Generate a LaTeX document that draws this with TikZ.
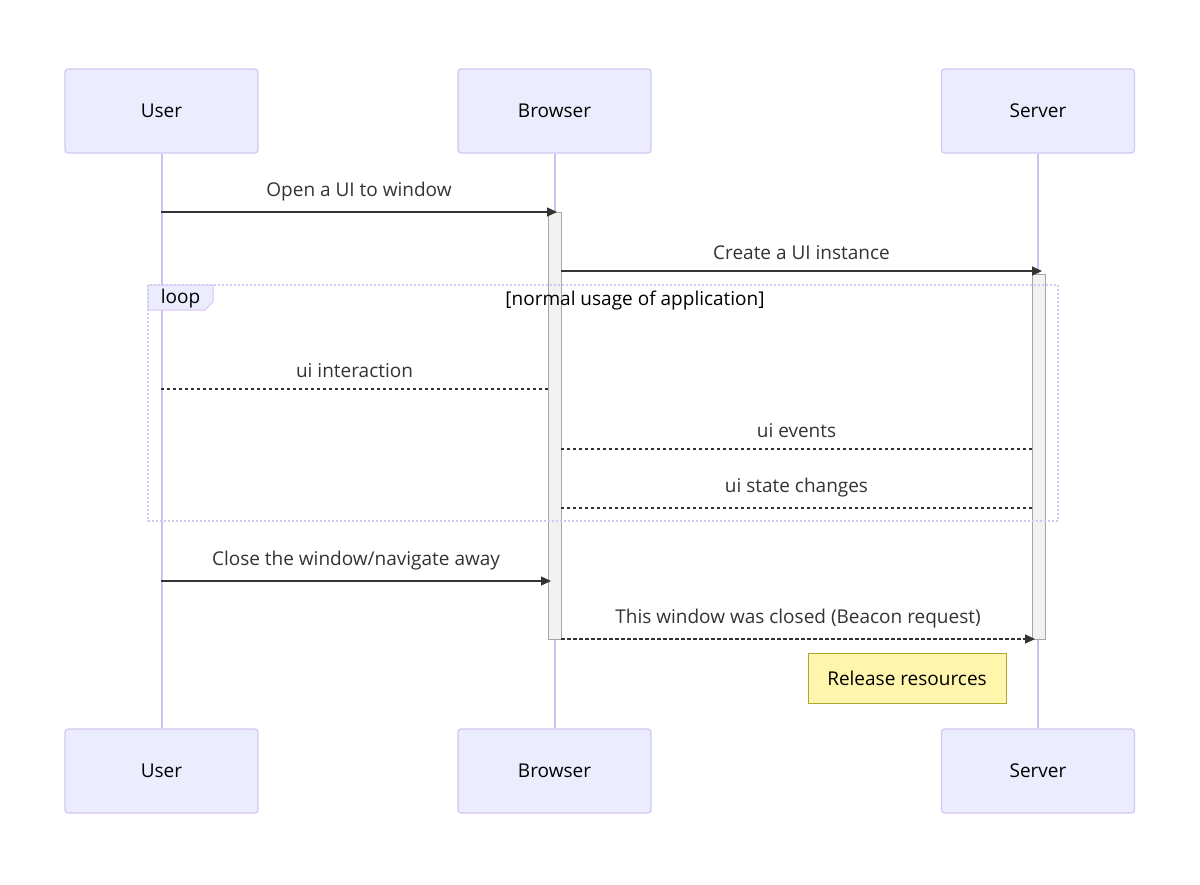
\documentclass[tikz,border=0pt]{standalone}
\usepackage{fontspec}
\setmainfont{Open Sans}
\usetikzlibrary{arrows.meta}
\definecolor{actf}{HTML}{ECECFF}
\definecolor{actd}{HTML}{D3C6F2}
\definecolor{life}{HTML}{CFC0EF}
\definecolor{txt}{HTML}{333333}
\definecolor{notef}{HTML}{FFF5AD}
\definecolor{noted}{HTML}{AAAA33}
\tikzset{
 x=1pt,y=-1pt,
 actor/.style={draw=actd,fill=actf,line width=1.2pt,rounded corners=3pt,minimum width=193pt,minimum height=84pt,font=\fontsize{19}{22}\selectfont,text=black},
 act/.style={draw=gray!70,fill=gray!10,line width=1pt},
 msg/.style={draw=txt,line width=1.3pt},
 head/.style={-{Triangle[length=10pt,width=9pt]}},
 dsh/.style={dash pattern=on 3.5pt off 2.5pt},
 lbl/.style={font=\fontsize{19}{22}\selectfont,text=txt},
}
\begin{document}
\begin{tikzpicture}
\useasboundingbox (0,0) rectangle (1200,884);
\node[actor] (u1) at (161.5,111) {User};
\node[actor] (b1) at (554.5,111) {Browser};
\node[actor] (s1) at (1038,111) {Server};
\node[actor] (u2) at (161.5,771) {User};
\node[actor] (b2) at (554.5,771) {Browser};
\node[actor] (s2) at (1038,771) {Server};
\draw[life,line width=2pt] (u1) -- (u2);
\draw[life,line width=2pt] (b1) -- (b2);
\draw[life,line width=2pt] (s1) -- (s2);
\draw[act] (548,212) rectangle (561,639);
\draw[act] (1032,274) rectangle (1045,639);
% loop
\draw[actd,line width=1.5pt,dash pattern=on 2pt off 2pt] (148,285) rectangle (1058,521);
\draw[actd,fill=actf,line width=1pt] (148,285) -- (213,285) -- (213,302) -- (205,310) -- (148,310) -- cycle;
\node[font=\fontsize{19}{22}\selectfont] (lp) at (180.5,299) {loop};
\node[font=\fontsize{19}{22}\selectfont] (lt) at (635,301) {[normal usage of application]};
% messages
\coordinate (m1a) at (161,212); \coordinate (m1b) at (557,212);
\draw[msg,head] (m1a) -- node[lbl,above=7pt] {Open a UI to window} (m1b);
\coordinate (m2a) at (561,271); \coordinate (m2b) at (1042,271);
\draw[msg,head] (m2a) -- node[lbl,above=7pt] {Create a UI instance} (m2b);
\coordinate (m3a) at (548,389); \coordinate (m3b) at (161,389);
\draw[msg,dsh] (m3a) -- node[lbl,above=7pt] {ui interaction} (m3b);
\coordinate (m4a) at (1032,449); \coordinate (m4b) at (561,449);
\draw[msg,dsh] (m4a) -- node[lbl,above=7pt] {ui events} (m4b);
\coordinate (m5a) at (1032,508); \coordinate (m5b) at (561,508);
\draw[msg,dsh] (m5a) -- node[lbl,above=7pt] {ui state changes} (m5b);
\coordinate (m6a) at (161,581); \coordinate (m6b) at (551,581);
\draw[msg,head] (m6a) -- node[lbl,above=7pt] {Close the window/navigate away} (m6b);
\coordinate (m7a) at (561,639); \coordinate (m7b) at (1035,639);
\draw[msg,dsh,head] (m7a) -- node[lbl,above=7pt] {This window was closed (Beacon request)} (m7b);
\node[draw=noted,fill=notef,minimum width=198pt,minimum height=50pt,font=\fontsize{19}{22}\selectfont,text=black] (note) at (907,678) {Release resources};
\end{tikzpicture}
\end{document}
